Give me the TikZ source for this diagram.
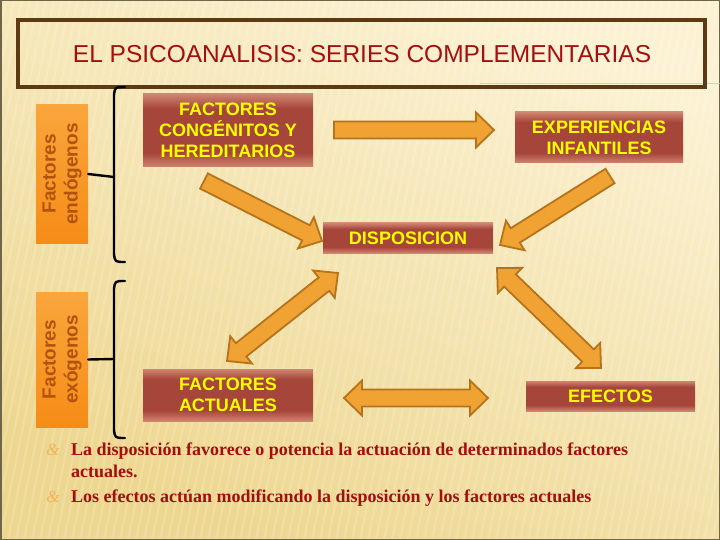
\documentclass[tikz,border=0pt]{standalone}
\usepackage{fontspec}
\setmainfont{Liberation Serif}
\setsansfont{Liberation Sans}
\usepackage{tikz}
\usetikzlibrary{calc}

\definecolor{bgtop}{HTML}{FCF2D3}
\definecolor{bgbot}{HTML}{EDD68E}
\definecolor{framegray}{HTML}{6E6646}
\definecolor{titlebrown}{HTML}{5C3B12}
\definecolor{titlered}{HTML}{A3100F}
\definecolor{boxdark}{HTML}{A6453A}
\definecolor{boxlight}{HTML}{CF8570}
\definecolor{boxyellow}{HTML}{FFFF00}
\definecolor{arrowfill}{HTML}{F0A232}
\definecolor{arrowedge}{HTML}{B5731C}
\definecolor{tagleft}{HTML}{F9A63C}
\definecolor{tagright}{HTML}{F68C16}
\definecolor{tagtext}{HTML}{B2530D}
\definecolor{bulletorange}{HTML}{F2B455}
\definecolor{notered}{HTML}{A30E0E}
\definecolor{goldline}{HTML}{EFBF5E}

\pgfdeclareverticalshading{redband}{100bp}{color(0bp)=(boxlight); color(25bp)=(boxlight);
  color(35bp)=(boxdark); color(65bp)=(boxdark); color(75bp)=(boxlight); color(100bp)=(boxlight)}

% fat arrows, drawn as outlines between two named points
\newcommand{\fatarrow}[2]{%
  \coordinate (hd) at ($(#2)!18pt!(#1)$);
  \draw[arrowbody] ($(#1)!8.5pt!90:(#2)$) -- ($(hd)!8.5pt!90:(#2)$) -- ($(hd)!17.5pt!90:(#2)$)
    -- (#2) -- ($(hd)!17.5pt!-90:(#2)$) -- ($(hd)!8.5pt!-90:(#2)$) -- ($(#1)!8.5pt!-90:(#2)$) -- cycle;}
\newcommand{\dblarrow}[2]{%
  \coordinate (ha) at ($(#1)!18pt!(#2)$);
  \coordinate (hb) at ($(#2)!18pt!(#1)$);
  \draw[arrowbody] (#1) -- ($(ha)!17.5pt!90:(#2)$) -- ($(ha)!8.5pt!90:(#2)$) -- ($(hb)!8.5pt!90:(#2)$)
    -- ($(hb)!17.5pt!90:(#2)$) -- (#2) -- ($(hb)!17.5pt!-90:(#2)$) -- ($(hb)!8.5pt!-90:(#2)$)
    -- ($(ha)!8.5pt!-90:(#2)$) -- ($(ha)!17.5pt!-90:(#2)$) -- cycle;}

\tikzset{
  redbox/.style={shading=redband, text=boxyellow,
    font=\sffamily\bfseries\fontsize{18}{21}\selectfont, align=center, inner sep=0pt},
  tagbox/.style={rotate=90, top color=tagleft, bottom color=tagright, text=tagtext,
    font=\sffamily\bfseries\fontsize{19}{22}\selectfont, align=center, inner sep=0pt,
    minimum height=52},
  arrowbody/.style={fill=arrowfill, draw=arrowedge, line width=1.8pt, line join=miter},
  keyline/.style={line width=2.4pt, black, line cap=round, line join=round},
  notetext/.style={text=notered, font=\bfseries\fontsize{18}{22}\selectfont, inner sep=0pt},
  bulletmark/.style={text=bulletorange, font=\itshape\fontsize{17}{22}\selectfont, inner sep=0pt}
}

\begin{document}
\begin{tikzpicture}[x=1pt,y=-1pt]
\useasboundingbox (0,0) rectangle (720,540);
\shade[top color=bgtop, bottom color=bgbot, shading angle=-25] (0,0) rectangle (720,540);
\begin{scope}
  \clip (0,0) rectangle (720,540);
  \foreach \i in {-160,-152,...,720}
    \draw[white, opacity=0.16, line width=2.5pt] (\i,540) -- (\i+110,0);
\end{scope}
\draw[framegray, line width=1.5pt] (0.75,0.75) rectangle (719.25,539.25);

% title
\draw[goldline, line width=1pt, opacity=0.7] (480,84) -- (720,84);
\draw[titlebrown, line width=3.5pt] (18,20) rectangle (705,87);
\node (title) at (362,54) [text=titlered, font=\sffamily\fontsize{24.5}{28}\selectfont] {EL PSICOANALISIS: SERIES COMPLEMENTARIAS};

% boxes
\node (cong) at (228,130.5) [redbox, minimum width=170, minimum height=73] {FACTORES\\CONGÉNITOS Y\\HEREDITARIOS};
\node (expe) at (599,137.5) [redbox, minimum width=168, minimum height=51] {EXPERIENCIAS\\INFANTILES};
\node (disp) at (408,238) [redbox, minimum width=170, minimum height=30] {DISPOSICION};
\node (actu) at (228,395) [redbox, minimum width=170, minimum height=52] {FACTORES\\ACTUALES};
\node (efec) at (610.5,396) [redbox, minimum width=169, minimum height=30] {EFECTOS};

% side labels and brackets
\node (endo) at (62,174) [tagbox, minimum width=138] {Factores\\endógenos};
\node (exo) at (62,359.5) [tagbox, minimum width=135] {Factores\\exógenos};
\coordinate (k1) at (114,177);
\coordinate (k2) at (114,359);
\draw[keyline] (endo.south) -- (k1);
\draw[keyline] (exo.south) -- (k2);
\draw[keyline] (125,87) .. controls (115,87) .. (114,95) -- (114,171) .. controls (114,176) .. (k1)
  .. controls (114,178) .. (114,183) -- (114,254) .. controls (115,262) .. (125,262);
\draw[keyline] (125,281) .. controls (115,281) .. (114,289) -- (114,353) .. controls (114,358) .. (k2)
  .. controls (114,360) .. (114,365) -- (114,430) .. controls (115,438) .. (125,438);

% arrows
\coordinate (c1a) at (334,130); \coordinate (c1b) at (494,130);
\coordinate (c2a) at (204,181); \coordinate (c2b) at (322,241);
\coordinate (c3a) at (610,176); \coordinate (c3b) at (500,245);
\coordinate (c4a) at (338,273); \coordinate (c4b) at (227,361);
\coordinate (c5a) at (497,268); \coordinate (c5b) at (601,368);
\coordinate (c6a) at (344,398); \coordinate (c6b) at (488,398);
\fatarrow{c1a}{c1b}
\fatarrow{c2a}{c2b}
\fatarrow{c3a}{c3b}
\dblarrow{c4a}{c4b}
\dblarrow{c5a}{c5b}
\dblarrow{c6a}{c6b}

% notes
\node (b1) at (53,455) [bulletmark, anchor=base] {\&};
\node (b2) at (53,502) [bulletmark, anchor=base] {\&};
\node (note1) at (71,477) [notetext, anchor=base west, align=left] {La disposición favorece o potencia la actuación de determinados factores\\actuales.};
\node (note2) at (71,502) [notetext, anchor=base west] {Los efectos actúan modificando la disposición y los factores actuales};
\end{tikzpicture}
\end{document}
